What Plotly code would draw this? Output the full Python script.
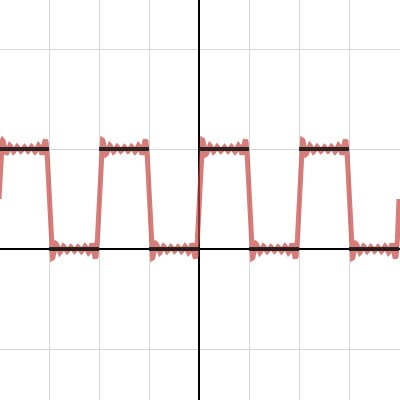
import numpy as np
import plotly.graph_objects as go

# square wave segments (x0, x1, level)
seg_x0 = [-4, -3, -2, -1, 0, 1, 2, 3]
seg_x1 = [-3, -2, -1, 0, 1, 2, 3, 4]
seg_y = [1, 0, 1, 0, 1, 0, 1, 0]
# Fourier series harmonics (odd) of the square wave
harmonics = [1, 3, 5, 7, 9, 11, 13]
offset = 0.5

x = np.linspace(-4, 4, 4001)
y = offset + sum((2 / (np.pi * k)) * np.sin(k * np.pi * x) for k in harmonics)

fig = go.Figure()
fig.add_trace(go.Scatter(x=x, y=y, mode="lines",
                         line=dict(color="rgba(199,68,64,0.7)", width=5)))
for a, b, v in zip(seg_x0, seg_x1, seg_y):
    fig.add_trace(go.Scatter(x=[a, b], y=[v, v], mode="lines",
                             line=dict(color="rgba(25,25,25,0.9)", width=4), hoverinfo="skip"))
fig.update_layout(width=400, height=400, margin=dict(l=0, r=0, t=0, b=0),
                  showlegend=False, plot_bgcolor="white", paper_bgcolor="white")
fig.update_xaxes(range=[-3.98, 4.02], dtick=1, showgrid=True, gridcolor="#d6d6d6",
                 gridwidth=1, zeroline=True, zerolinecolor="black", zerolinewidth=1.5,
                 showticklabels=False)
fig.update_yaxes(range=[-1.51, 2.49], dtick=1, showgrid=True, gridcolor="#d6d6d6",
                 gridwidth=1, zeroline=True, zerolinecolor="black", zerolinewidth=1.5,
                 showticklabels=False)
fig.write_html("out.html", config={"displayModeBar": False})
with open("out.html") as f:
    html = f.read()
html = html.replace("<body>", "<body style=\"margin:0;padding:0\">", 1)
with open("out.html", "w") as f:
    f.write(html)
